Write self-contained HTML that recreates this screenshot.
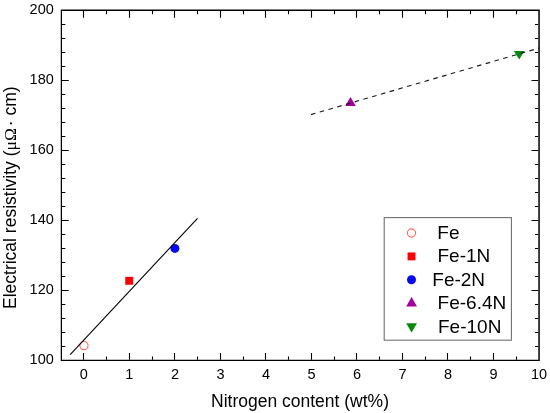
<!DOCTYPE html>
<html><head><meta charset="utf-8"><title>Electrical resistivity vs nitrogen content</title>
<style>
html,body{margin:0;padding:0;background:#fff;}
body{width:550px;height:413px;overflow:hidden;}
svg{display:block;}
text{font-family:"Liberation Sans",Arial,sans-serif;fill:#000;}
</style></head><body>
<svg width="550" height="413" viewBox="0 0 550 413">
<rect x="0" y="0" width="550" height="413" fill="#fff"/>
<path d="M83.50 359.85V353.05M83.50 11.00V17.80M106.50 359.85V356.55M106.50 11.00V14.30M129.50 359.85V353.05M129.50 11.00V17.80M152.50 359.85V356.55M152.50 11.00V14.30M174.50 359.85V353.05M174.50 11.00V17.80M197.50 359.85V356.55M197.50 11.00V14.30M220.50 359.85V353.05M220.50 11.00V17.80M243.50 359.85V356.55M243.50 11.00V14.30M265.50 359.85V353.05M265.50 11.00V17.80M288.50 359.85V356.55M288.50 11.00V14.30M311.50 359.85V353.05M311.50 11.00V17.80M334.50 359.85V356.55M334.50 11.00V14.30M356.50 359.85V353.05M356.50 11.00V17.80M379.50 359.85V356.55M379.50 11.00V14.30M402.50 359.85V353.05M402.50 11.00V17.80M425.50 359.85V356.55M425.50 11.00V14.30M447.50 359.85V353.05M447.50 11.00V17.80M470.50 359.85V356.55M470.50 11.00V14.30M493.50 359.85V353.05M493.50 11.00V17.80M516.50 359.85V356.55M516.50 11.00V14.30M62.00 346.50H65.30M538.30 346.50H535.00M62.00 332.50H65.30M538.30 332.50H535.00M62.00 318.50H65.30M538.30 318.50H535.00M62.00 304.50H65.30M538.30 304.50H535.00M62.00 290.50H68.80M538.30 290.50H531.50M62.00 276.50H65.30M538.30 276.50H535.00M62.00 262.50H65.30M538.30 262.50H535.00M62.00 248.50H65.30M538.30 248.50H535.00M62.00 234.50H65.30M538.30 234.50H535.00M62.00 220.50H68.80M538.30 220.50H531.50M62.00 206.50H65.30M538.30 206.50H535.00M62.00 192.50H65.30M538.30 192.50H535.00M62.00 178.50H65.30M538.30 178.50H535.00M62.00 164.50H65.30M538.30 164.50H535.00M62.00 150.50H68.80M538.30 150.50H531.50M62.00 136.50H65.30M538.30 136.50H535.00M62.00 122.50H65.30M538.30 122.50H535.00M62.00 108.50H65.30M538.30 108.50H535.00M62.00 94.50H65.30M538.30 94.50H535.00M62.00 80.50H68.80M538.30 80.50H531.50M62.00 66.50H65.30M538.30 66.50H535.00M62.00 52.50H65.30M538.30 52.50H535.00M62.00 38.50H65.30M538.30 38.50H535.00M62.00 24.50H65.30M538.30 24.50H535.00" stroke="#000" stroke-width="1.1" fill="none"/>
<circle cx="83.95" cy="345.60" r="4.1" fill="none" stroke="#ff6a55" stroke-width="1.1"/>
<rect x="125.25" y="276.85" width="7.9" height="7.9" fill="#ff0000"/>
<circle cx="174.90" cy="248.40" r="4.5" fill="#0808f8" stroke="none" stroke-width="0"/>
<path d="M350.50 97.00L355.80 105.90H345.20Z" fill="#a3009c"/>
<path d="M513.90 51.00H524.50L519.20 59.60Z" fill="#078a07"/>
<line x1="70.2" y1="354.7" x2="197.5" y2="218.3" stroke="#000" stroke-width="1.1"/>
<line x1="311.00" y1="114.60" x2="539.00" y2="48.07" stroke="#1c1c1c" stroke-width="1.15" stroke-dasharray="4.6 4.5"/>
<path d="M60.75 9.6H539.8V361.1H60.75Z M62.0 11.0V359.85H538.3V11.0Z" fill="#000" fill-rule="evenodd"/>
<text x="83.90" y="379" font-size="14.5" text-anchor="middle">0</text>
<text x="129.41" y="379" font-size="14.5" text-anchor="middle">1</text>
<text x="174.92" y="379" font-size="14.5" text-anchor="middle">2</text>
<text x="220.43" y="379" font-size="14.5" text-anchor="middle">3</text>
<text x="265.94" y="379" font-size="14.5" text-anchor="middle">4</text>
<text x="311.45" y="379" font-size="14.5" text-anchor="middle">5</text>
<text x="356.96" y="379" font-size="14.5" text-anchor="middle">6</text>
<text x="402.47" y="379" font-size="14.5" text-anchor="middle">7</text>
<text x="447.98" y="379" font-size="14.5" text-anchor="middle">8</text>
<text x="493.49" y="379" font-size="14.5" text-anchor="middle">9</text>
<text x="539.00" y="379" font-size="14.5" text-anchor="middle">10</text>
<text x="53.8" y="363.80" font-size="14.5" text-anchor="end">100</text>
<text x="53.8" y="293.80" font-size="14.5" text-anchor="end">120</text>
<text x="53.8" y="223.80" font-size="14.5" text-anchor="end">140</text>
<text x="53.8" y="153.80" font-size="14.5" text-anchor="end">160</text>
<text x="53.8" y="83.80" font-size="14.5" text-anchor="end">180</text>
<text x="53.8" y="13.80" font-size="14.5" text-anchor="end">200</text>
<text x="211" y="407" font-size="17.5">Nitrogen content (wt%)</text>
<text transform="translate(15.5 309) rotate(-90)" font-size="17.5">Electrical resistivity (<tspan font-family="Liberation Serif, serif">μΩ</tspan><tspan dx="-3"> · cm)</tspan></text>
<rect x="384.2" y="217.6" width="127.2" height="122.6" fill="#fff" stroke="#6a6a6a" stroke-width="1.05"/>
<circle cx="411.50" cy="233.00" r="4.1" fill="none" stroke="#ff6a55" stroke-width="1.1"/>
<rect x="407.55" y="252.45" width="7.9" height="7.9" fill="#ff0000"/>
<circle cx="411.50" cy="279.80" r="4.5" fill="#0808f8" stroke="none" stroke-width="0"/>
<path d="M411.60 297.00L417.00 306.40H406.20Z" fill="#a3009c"/>
<path d="M406.20 323.20H417.00L411.60 332.60Z" fill="#078a07"/>
<text x="437.3" y="239.2" font-size="19">Fe</text>
<text x="437.5" y="262.4" font-size="19">Fe-1N</text>
<text x="432.3" y="286.2" font-size="19">Fe-2N</text>
<text x="437.6" y="309.4" font-size="19">Fe-6.4N</text>
<text x="438" y="332.8" font-size="19">Fe-10N</text>
</svg>
</body></html>
